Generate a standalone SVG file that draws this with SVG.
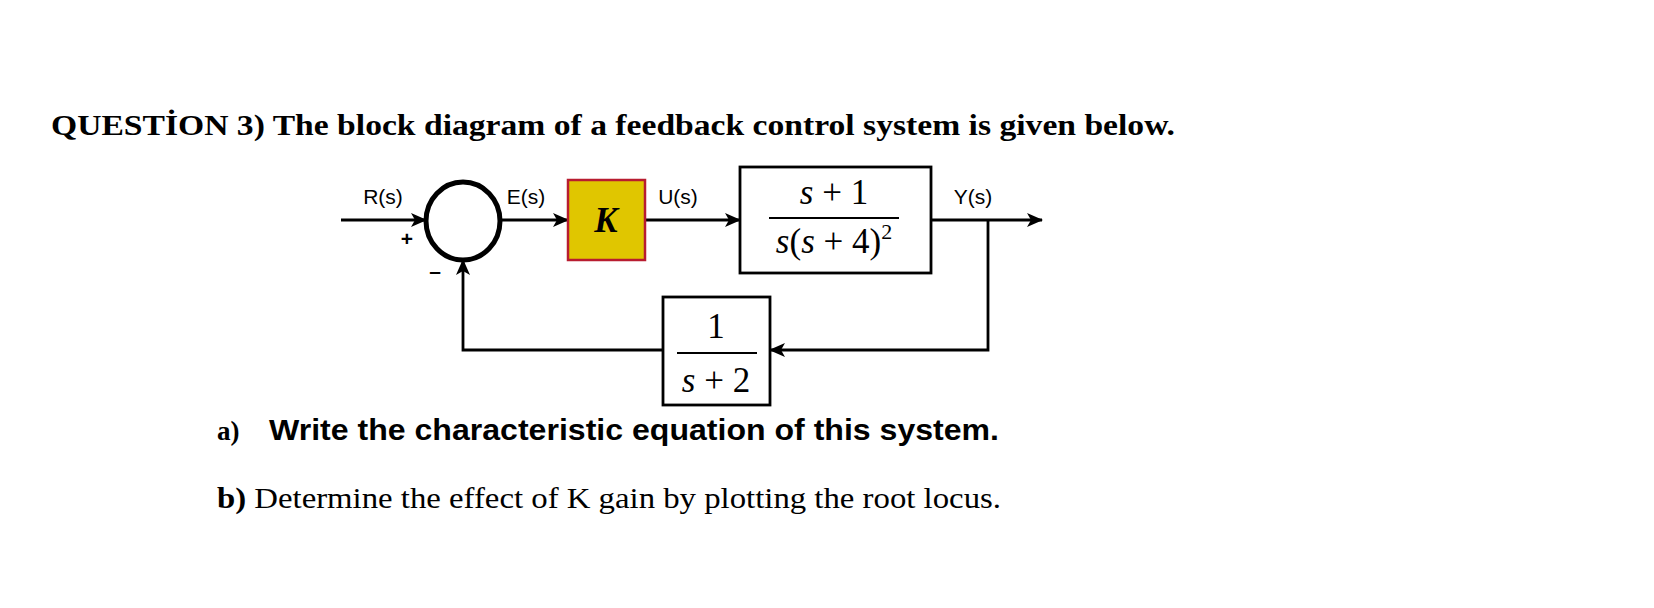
<svg xmlns="http://www.w3.org/2000/svg" width="1654" height="608" viewBox="0 0 1654 608">
<style>
.lbl{font-family:"Liberation Sans",Arial,sans-serif;font-size:21px;fill:#000;text-anchor:middle}
.m{font-family:"Liberation Serif","Times New Roman",serif;font-size:35px;fill:#000;text-anchor:middle}
.ln{stroke:#000;stroke-width:2.8;fill:none}
.box{fill:#fff;stroke:#000;stroke-width:2.8}
</style>
<defs><marker id="ar" markerWidth="16" markerHeight="14" refX="15" refY="7" orient="auto" markerUnits="userSpaceOnUse"><path d="M0,0 L16,7 L0,14 L4,7 Z" fill="#000"/></marker></defs>
<rect width="1654" height="608" fill="#fff"/>
<text x="51" y="135" font-family="Liberation Serif,'Times New Roman',serif" font-weight="bold" font-size="30" textLength="1124" lengthAdjust="spacingAndGlyphs">QUESTİON 3) The block diagram of a feedback control system is given below.</text>
<g id="connectors">
<line class="ln" x1="341" y1="220" x2="426" y2="220" marker-end="url(#ar)"/>
<line class="ln" x1="500" y1="220" x2="568" y2="220" marker-end="url(#ar)"/>
<line class="ln" x1="645" y1="220" x2="740" y2="220" marker-end="url(#ar)"/>
<line class="ln" x1="931" y1="220" x2="1042" y2="220" marker-end="url(#ar)"/>
<polyline class="ln" points="988,220 988,350 770,350" marker-end="url(#ar)"/>
<polyline class="ln" points="663,350 463,350 463,260" marker-end="url(#ar)"/>
</g>
<g id="sum"><ellipse cx="463" cy="221" rx="37" ry="39" fill="#fff" stroke="#000" stroke-width="5"/>
<text class="lbl" x="407" y="246" font-weight="bold" font-size="21">+</text>
<text class="lbl" x="435" y="278" font-weight="bold" font-size="24">–</text></g>
<g id="labels">
<text class="lbl" x="383" y="204">R(s)</text>
<text class="lbl" x="526" y="204">E(s)</text>
<text class="lbl" x="678" y="204">U(s)</text>
<text class="lbl" x="973" y="204">Y(s)</text>
</g>
<g id="K"><rect x="568" y="180" width="77" height="80" fill="#e0c600" stroke="#b81c30" stroke-width="2.5"/>
<text class="m" x="606" y="232" font-style="italic" font-weight="bold" font-size="32">K</text></g>
<g id="plant"><rect class="box" x="740" y="167" width="191" height="106"/>
<text class="m" x="834" y="204"><tspan font-style="italic">s</tspan> + 1</text>
<line x1="769" y1="218" x2="899" y2="218" stroke="#000" stroke-width="2"/>
<text class="m" x="834" y="253"><tspan font-style="italic">s</tspan>(<tspan font-style="italic">s</tspan> + 4)<tspan font-size="22" dy="-14">2</tspan></text></g>
<g id="feedback"><rect class="box" x="663" y="297" width="107" height="108"/>
<text class="m" x="716" y="338">1</text>
<line x1="677" y1="353" x2="757" y2="353" stroke="#000" stroke-width="2"/>
<text class="m" x="716" y="392"><tspan font-style="italic">s</tspan> + 2</text></g>
<text x="217" y="440" font-size="27" font-family="Liberation Serif,serif" font-weight="bold">a)</text>
<text x="269" y="440" font-size="29" font-family="Liberation Sans,Arial,sans-serif" font-weight="bold" textLength="730" lengthAdjust="spacingAndGlyphs">Write the characteristic equation of this system.</text>
<text x="217" y="508" font-size="30" font-family="Liberation Serif,serif" textLength="784" lengthAdjust="spacingAndGlyphs"><tspan font-weight="bold">b)</tspan> Determine the effect of K gain by plotting the root locus.</text>
</svg>
